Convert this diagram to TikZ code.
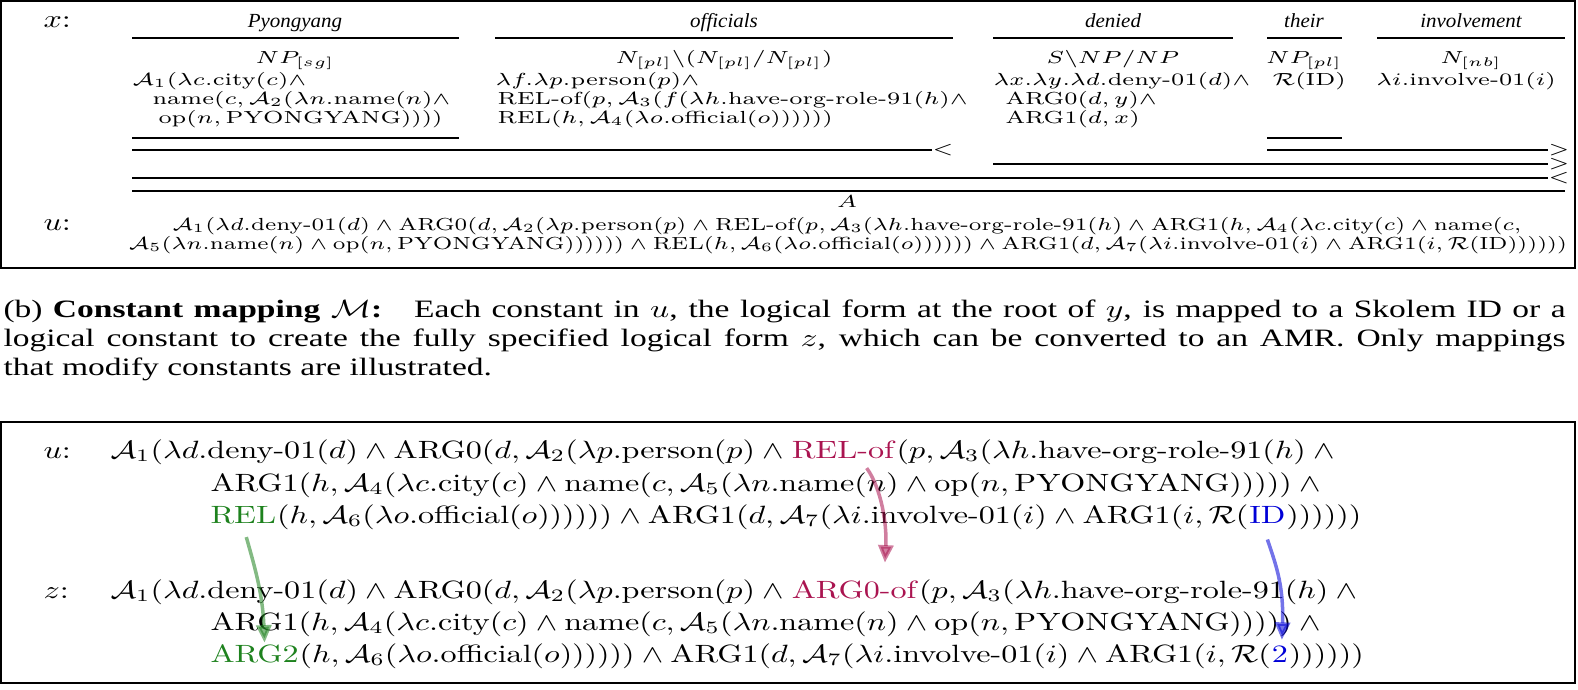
\documentclass[tikz,border=0pt]{standalone}
\usepackage{fontspec}
\usepackage{amsmath}
\usepackage{graphicx}
\usetikzlibrary{arrows.meta,calc}
\newfontfamily\tms{Liberation Serif}
\definecolor{relred}{RGB}{170,20,80}
\definecolor{relgreen}{RGB}{30,130,30}
\definecolor{relblue}{RGB}{0,0,215}
\newcommand{\cst}[1]{\textrm{#1}}
\newcommand{\sxa}[1]{\scalebox{1.33}[1]{#1}}
\newcommand{\sxu}[1]{\scalebox{1.27}[1]{#1}}
\newcommand{\sxw}[1]{\scalebox{1.05}[1]{#1}}
\newcommand{\sxb}[1]{\scalebox{1.285}[1]{#1}}
\newcommand{\sxc}[1]{\scalebox{1.34}[1]{#1}}
\newcommand{\Ac}[1]{\mathcal{A}_{#1}}
\tikzset{
  tb/.style={inner sep=0pt, font=\fontsize{7}{8}\selectfont},
  wd/.style={inner sep=0pt, font=\fontsize{8}{9}\selectfont\tms\itshape},
  lab/.style={inner sep=0pt, font=\fontsize{10}{12}\selectfont},
  bb/.style={inner sep=0pt, font=\fontsize{10}{12}\selectfont},
  captxt/.style={inner sep=0pt, font=\fontsize{10}{12}\selectfont\tms},
  rulel/.style={line width=0.55pt},
  frame/.style={line width=0.65pt},
  maparrow/.style={line width=1.4pt, -{Triangle[width=6pt,length=7pt]}, draw opacity=0.55, fill opacity=0.55},
}
\begin{document}
\begin{tikzpicture}[x=0.4pt,y=-0.4pt]
\useasboundingbox (0,0) rectangle (1578,689);
% ---------------- top box ----------------
\draw[frame] (1,1) rectangle (1575,268);
\node[lab, anchor=base west] (xl) at (43,27) {\sxb{$x$:}};
\node[wd, anchor=base] (w1) at (295,27) {\sxw{Pyongyang}};
\node[wd, anchor=base] (w2) at (724,27) {\sxw{officials}};
\node[wd, anchor=base] (w3) at (1113,27) {\sxw{denied}};
\node[wd, anchor=base] (w4) at (1304,27) {\sxw{their}};
\node[wd, anchor=base] (w5) at (1471,27) {\sxw{involvement}};
\draw[rulel] (132,38) -- (459,38);
\draw[rulel] (495,38) -- (953,38);
\draw[rulel] (993,38) -- (1233,38);
\draw[rulel] (1267,38) -- (1342,38);
\draw[rulel] (1377,38) -- (1565,38);
\node[tb, anchor=base] (c1) at (295,63) {\sxa{$NP_{[sg]}$}};
\node[tb, anchor=base] (c2) at (724,63) {\sxa{$N_{[pl]}\backslash(N_{[pl]}/N_{[pl]})$}};
\node[tb, anchor=base] (c3) at (1113,63) {\sxa{$S\backslash NP/NP$}};
\node[tb, anchor=base] (c4) at (1304,63) {\sxa{$NP_{[pl]}$}};
\node[tb, anchor=base] (c5) at (1471,63) {\sxa{$N_{[nb]}$}};
% semantics
\node[tb, anchor=base west] (p1) at (132,85) {\sxa{$\Ac{1}(\lambda c.\cst{city}(c)\wedge$}};
\node[tb, anchor=base west] (p2) at (152,104) {\sxa{$\cst{name}(c,\Ac{2}(\lambda n.\cst{name}(n)\wedge$}};
\node[tb, anchor=base west] (p3) at (158,123) {\sxa{$\cst{op}(n,\cst{PYONGYANG}))))$}};
\node[tb, anchor=base west] (o1) at (495,85) {\sxa{$\lambda f.\lambda p.\cst{person}(p)\wedge$}};
\node[tb, anchor=base west] (o2) at (497,104) {\sxa{$\cst{REL-of}(p,\Ac{3}(f(\lambda h.\cst{have-org-role-91}(h)\wedge$}};
\node[tb, anchor=base west] (o3) at (497,123) {\sxa{$\cst{REL}(h,\Ac{4}(\lambda o.\cst{official}(o))))))$}};
\node[tb, anchor=base west] (d1) at (993,85) {\sxa{$\lambda x.\lambda y.\lambda d.\cst{deny-01}(d)\wedge$}};
\node[tb, anchor=base west] (d2) at (1005,104) {\sxa{$\cst{ARG0}(d,y)\wedge$}};
\node[tb, anchor=base west] (d3) at (1005,123) {\sxa{$\cst{ARG1}(d,x)$}};
\node[tb, anchor=base west] (t1) at (1272,85) {\sxa{$\mathcal{R}(\cst{ID})$}};
\node[tb, anchor=base] (i1) at (1466,85) {\sxa{$\lambda i.\cst{involve-01}(i)$}};
% derivation rules
\draw[rulel] (132,138) -- (459,138);
\draw[rulel] (1267,138) -- (1342,138);
\node[tb, anchor=west] (s1) at (932,150) {\sxa{$<$}};
\draw[rulel] (132,150) -- (s1.west);
\node[tb, anchor=west] (s2) at (1548,150) {\sxa{$>$}};
\draw[rulel] (1267,150) -- (s2.west);
\node[tb, anchor=west] (s3) at (1548,164) {\sxa{$>$}};
\draw[rulel] (993,164) -- (s3.west);
\node[tb, anchor=west] (s4) at (1548,178) {\sxa{$<$}};
\draw[rulel] (132,178) -- (s4.west);
\draw[rulel] (132,191) -- (1565,191);
\node[tb, anchor=base] (cA) at (847,207) {\sxa{$A$}};
\node[lab, anchor=base west] (ul) at (43,230) {\sxb{$u$:}};
\node[tb, anchor=base] (ut1) at (847,230) {\sxu{$\Ac{1}(\lambda d.\cst{deny-01}(d)\wedge\cst{ARG0}(d,\Ac{2}(\lambda p.\cst{person}(p)\wedge\cst{REL-of}(p,\Ac{3}(\lambda h.\cst{have-org-role-91}(h)\wedge\cst{ARG1}(h,\Ac{4}(\lambda c.\cst{city}(c)\wedge\cst{name}(c,$}};
\node[tb, anchor=base] (ut2) at (848,249) {\sxu{$\Ac{5}(\lambda n.\cst{name}(n)\wedge\cst{op}(n,\cst{PYONGYANG}))))))\wedge\cst{REL}(h,\Ac{6}(\lambda o.\cst{official}(o))))))\wedge\cst{ARG1}(d,\Ac{7}(\lambda i.\cst{involve-01}(i)\wedge\cst{ARG1}(i,\mathcal{R}(\cst{ID}))))))$}};
% ---------------- caption ----------------
\node[captxt, anchor=base west] (cap1) at (3,317) {\sxc{\makebox[466.3pt][s]{(b) \textbf{Constant mapping} $\mathcal{M}$\textbf{:}\hspace{0.5em} Each constant in $u$, the logical form at the root of $y$, is mapped to a Skolem ID or a}}};
\node[captxt, anchor=base west] (cap2) at (3,346) {\sxc{\makebox[466.3pt][s]{logical constant to create the fully specified logical form $z$, which can be converted to an AMR. Only mappings}}};
\node[captxt, anchor=base west] (cap3) at (3,375) {\sxc{that modify constants are illustrated.}};
% ---------------- bottom box ----------------
\draw[frame] (1,422) rectangle (1575,683);
\node[lab, anchor=base west] (bu) at (43,458) {\sxb{$u$:}};
\node[lab, anchor=base west] (bz) at (43,598) {\sxb{$z$:}};
% u
\node[bb, anchor=base west] (u1a) at (110,458) {\sxb{$\Ac{1}(\lambda d.\cst{deny-01}(d)\wedge\cst{ARG0}(d,\Ac{2}(\lambda p.\cst{person}(p)\wedge{}$}};
\node[bb, anchor=base west, text=relred] (relof) at (u1a.base east) {\sxb{\cst{REL-of}}};
\node[bb, anchor=base west] (u1b) at (relof.base east) {\sxb{$(p,\Ac{3}(\lambda h.\cst{have-org-role-91}(h)\wedge{}$}};
\node[bb, anchor=base west] (u2) at (210,491) {\sxb{$\cst{ARG1}(h,\Ac{4}(\lambda c.\cst{city}(c)\wedge\cst{name}(c,\Ac{5}(\lambda n.\cst{name}(n)\wedge\cst{op}(n,\cst{PYONGYANG})))))\wedge{}$}};
\node[bb, anchor=base west, text=relgreen] (rel) at (210,523) {\sxb{\cst{REL}}};
\node[bb, anchor=base west] (u3a) at (rel.base east) {\sxb{$(h,\Ac{6}(\lambda o.\cst{official}(o))))))\wedge\cst{ARG1}(d,\Ac{7}(\lambda i.\cst{involve-01}(i)\wedge\cst{ARG1}(i,\mathcal{R}($}};
\node[bb, anchor=base west, text=relblue] (id) at (u3a.base east) {\sxb{\cst{ID}}};
\node[bb, anchor=base west] (u3b) at (id.base east) {\sxb{$))))))$}};
% z
\node[bb, anchor=base west] (z1a) at (110,598) {\sxb{$\Ac{1}(\lambda d.\cst{deny-01}(d)\wedge\cst{ARG0}(d,\Ac{2}(\lambda p.\cst{person}(p)\wedge{}$}};
\node[bb, anchor=base west, text=relred] (arg0of) at (z1a.base east) {\sxb{\cst{ARG0-of}}};
\node[bb, anchor=base west] (z1b) at (arg0of.base east) {\sxb{$(p,\Ac{3}(\lambda h.\cst{have-org-role-91}(h)\wedge{}$}};
\node[bb, anchor=base west] (z2) at (210,630) {\sxb{$\cst{ARG1}(h,\Ac{4}(\lambda c.\cst{city}(c)\wedge\cst{name}(c,\Ac{5}(\lambda n.\cst{name}(n)\wedge\cst{op}(n,\cst{PYONGYANG})))))\wedge{}$}};
\node[bb, anchor=base west, text=relgreen] (arg2) at (210,662) {\sxb{\cst{ARG2}}};
\node[bb, anchor=base west] (z3a) at (arg2.base east) {\sxb{$(h,\Ac{6}(\lambda o.\cst{official}(o))))))\wedge\cst{ARG1}(d,\Ac{7}(\lambda i.\cst{involve-01}(i)\wedge\cst{ARG1}(i,\mathcal{R}($}};
\node[bb, anchor=base west, text=relblue] (two) at (z3a.base east) {\sxb{2}};
\node[bb, anchor=base west] (z3b) at (two.base east) {\sxb{$))))))$}};
% mapping arrows
\draw[maparrow, relred] ($(relof.south)+(23,9)$) .. controls ($(relof.south)+(38,30)$) and ($(arg0of.north)+(32,-55)$) .. ($(arg0of.north)+(30,-17)$);
\draw[maparrow, relgreen] ($(rel.south)+(3,13)$) .. controls ($(rel.south)+(12,45)$) and ($(arg2.north)+(8,-50)$) .. ($(arg2.north)+(10,-1)$);
\draw[maparrow, relblue] ($(id.south)+(0,16)$) .. controls ($(id.south)+(8,40)$) and ($(two.north)+(4,-60)$) .. ($(two.north)+(2,-5)$);
\end{tikzpicture}
\end{document}
